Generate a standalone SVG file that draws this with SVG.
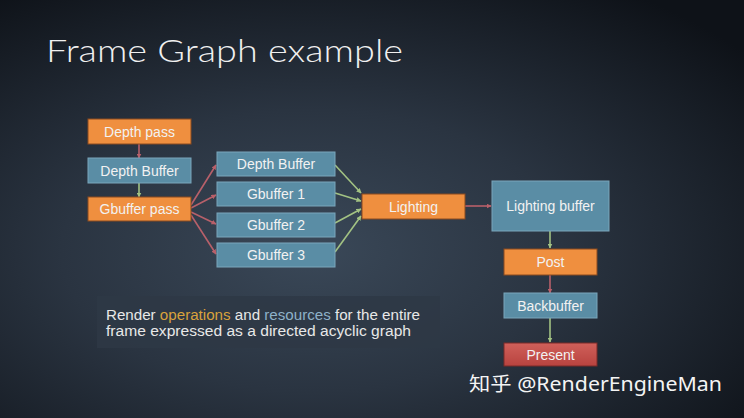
<svg xmlns="http://www.w3.org/2000/svg" width="744" height="418" viewBox="0 0 744 418">
<defs>
<radialGradient id="bg" cx="0.42" cy="0.6" r="0.75">
<stop offset="0" stop-color="#3a4858"/>
<stop offset="0.45" stop-color="#2a3441"/>
<stop offset="1" stop-color="#0e1218"/>
</radialGradient>
<linearGradient id="pres" x1="0" y1="0" x2="0" y2="1">
<stop offset="0" stop-color="#d0605a"/>
<stop offset="1" stop-color="#b8433f"/>
</linearGradient>
<marker id="ar" markerWidth="5" markerHeight="5" refX="4.5" refY="2.5" orient="auto" markerUnits="userSpaceOnUse">
<path d="M0,0 L5,2.5 L0,5 z" fill="#b8606a"/>
</marker>
<marker id="ag" markerWidth="5" markerHeight="5" refX="4.5" refY="2.5" orient="auto" markerUnits="userSpaceOnUse">
<path d="M0,0 L5,2.5 L0,5 z" fill="#a2c283"/>
</marker>
</defs>
<style>
.op{fill:#ef8f3f;stroke:#8a4a20;stroke-width:1}
.res{fill:#5a8da5;stroke:#7aa6bb;stroke-width:1}
.pr{fill:url(#pres);stroke:#7a2a28;stroke-width:1}
.t{font-family:"Liberation Sans","DejaVu Sans",sans-serif;font-size:14px;fill:#f2f2f2;text-anchor:middle}
.r{stroke:#b8606a;stroke-width:1.6;fill:none;marker-end:url(#ar)}
.g{stroke:#a2c283;stroke-width:1.6;fill:none;marker-end:url(#ag)}
</style>
<rect width="744" height="418" fill="url(#bg)"/>
<text x="46" y="62" font-family="Lato,'Liberation Sans',sans-serif" font-weight="300" font-size="31" fill="#f0f0f0" textLength="357" lengthAdjust="spacingAndGlyphs">Frame Graph example</text>

<g id="connectors">
<line class="r" x1="139" y1="144" x2="139" y2="158"/>
<line class="g" x1="139" y1="183" x2="139" y2="197"/>
<line class="r" x1="191" y1="205" x2="216" y2="165"/>
<line class="r" x1="191" y1="208" x2="216" y2="195"/>
<line class="r" x1="191" y1="212" x2="216" y2="224"/>
<line class="r" x1="191" y1="215" x2="216" y2="254"/>
<line class="g" x1="335" y1="165" x2="361" y2="193"/>
<line class="g" x1="335" y1="193" x2="361" y2="201"/>
<line class="g" x1="335" y1="223" x2="361" y2="209"/>
<line class="g" x1="335" y1="252" x2="361" y2="216"/>
<line class="r" x1="465" y1="206" x2="491" y2="206"/>
<line class="g" x1="550" y1="231" x2="550" y2="248"/>
<line class="r" x1="550" y1="275" x2="550" y2="293"/>
<line class="g" x1="550" y1="318" x2="550" y2="342"/>
</g>

<g id="depth-pass"><rect class="op" x="88" y="119" width="103" height="25"/><text class="t" x="139.5" y="136.5">Depth pass</text></g>
<g id="depth-buffer-1"><rect class="res" x="88" y="158" width="103" height="25"/><text class="t" x="139.5" y="175.5">Depth Buffer</text></g>
<g id="gbuffer-pass"><rect class="op" x="88" y="197" width="103" height="24"/><text class="t" x="139.5" y="214">Gbuffer pass</text></g>
<g id="depth-buffer-2"><rect class="res" x="217" y="152" width="118" height="24"/><text class="t" x="276" y="169">Depth Buffer</text></g>
<g id="gbuffer-1"><rect class="res" x="217" y="182" width="118" height="24"/><text class="t" x="276" y="199">Gbuffer 1</text></g>
<g id="gbuffer-2"><rect class="res" x="217" y="213" width="118" height="24"/><text class="t" x="276" y="230">Gbuffer 2</text></g>
<g id="gbuffer-3"><rect class="res" x="217" y="243" width="118" height="24"/><text class="t" x="276" y="260">Gbuffer 3</text></g>
<g id="lighting"><rect class="op" x="362" y="194" width="103" height="25"/><text class="t" x="413.5" y="211.5">Lighting</text></g>
<g id="lighting-buffer"><rect class="res" x="492" y="181" width="117" height="50"/><text class="t" x="550.5" y="211">Lighting buffer</text></g>
<g id="post"><rect class="op" x="504" y="249" width="93" height="26"/><text class="t" x="550.5" y="267">Post</text></g>
<g id="backbuffer"><rect class="res" x="504" y="293" width="93" height="25"/><text class="t" x="550.5" y="310.5">Backbuffer</text></g>
<g id="present"><rect class="pr" x="504" y="343" width="93" height="23"/><text class="t" x="550.5" y="359.5">Present</text></g>

<g id="caption">
<rect x="97" y="296" width="343" height="52" fill="#2e3845" opacity="0.85"/>
<text font-family="'Liberation Sans',sans-serif" font-size="14" fill="#e8e8e8" x="106" y="320" textLength="314" lengthAdjust="spacingAndGlyphs">Render <tspan fill="#d9a23c">operations</tspan> and <tspan fill="#8fb2c9">resources</tspan> for the entire</text>
<text font-family="'Liberation Sans',sans-serif" font-size="14" fill="#e8e8e8" x="106" y="336" textLength="305" lengthAdjust="spacingAndGlyphs">frame expressed as a directed acyclic graph</text>
</g>

<text x="469" y="391" font-family="'Noto Sans','Noto Sans CJK SC',sans-serif" font-size="19" fill="#f4f4f4" textLength="253" lengthAdjust="spacingAndGlyphs">知乎 @RenderEngineMan</text>
</svg>
